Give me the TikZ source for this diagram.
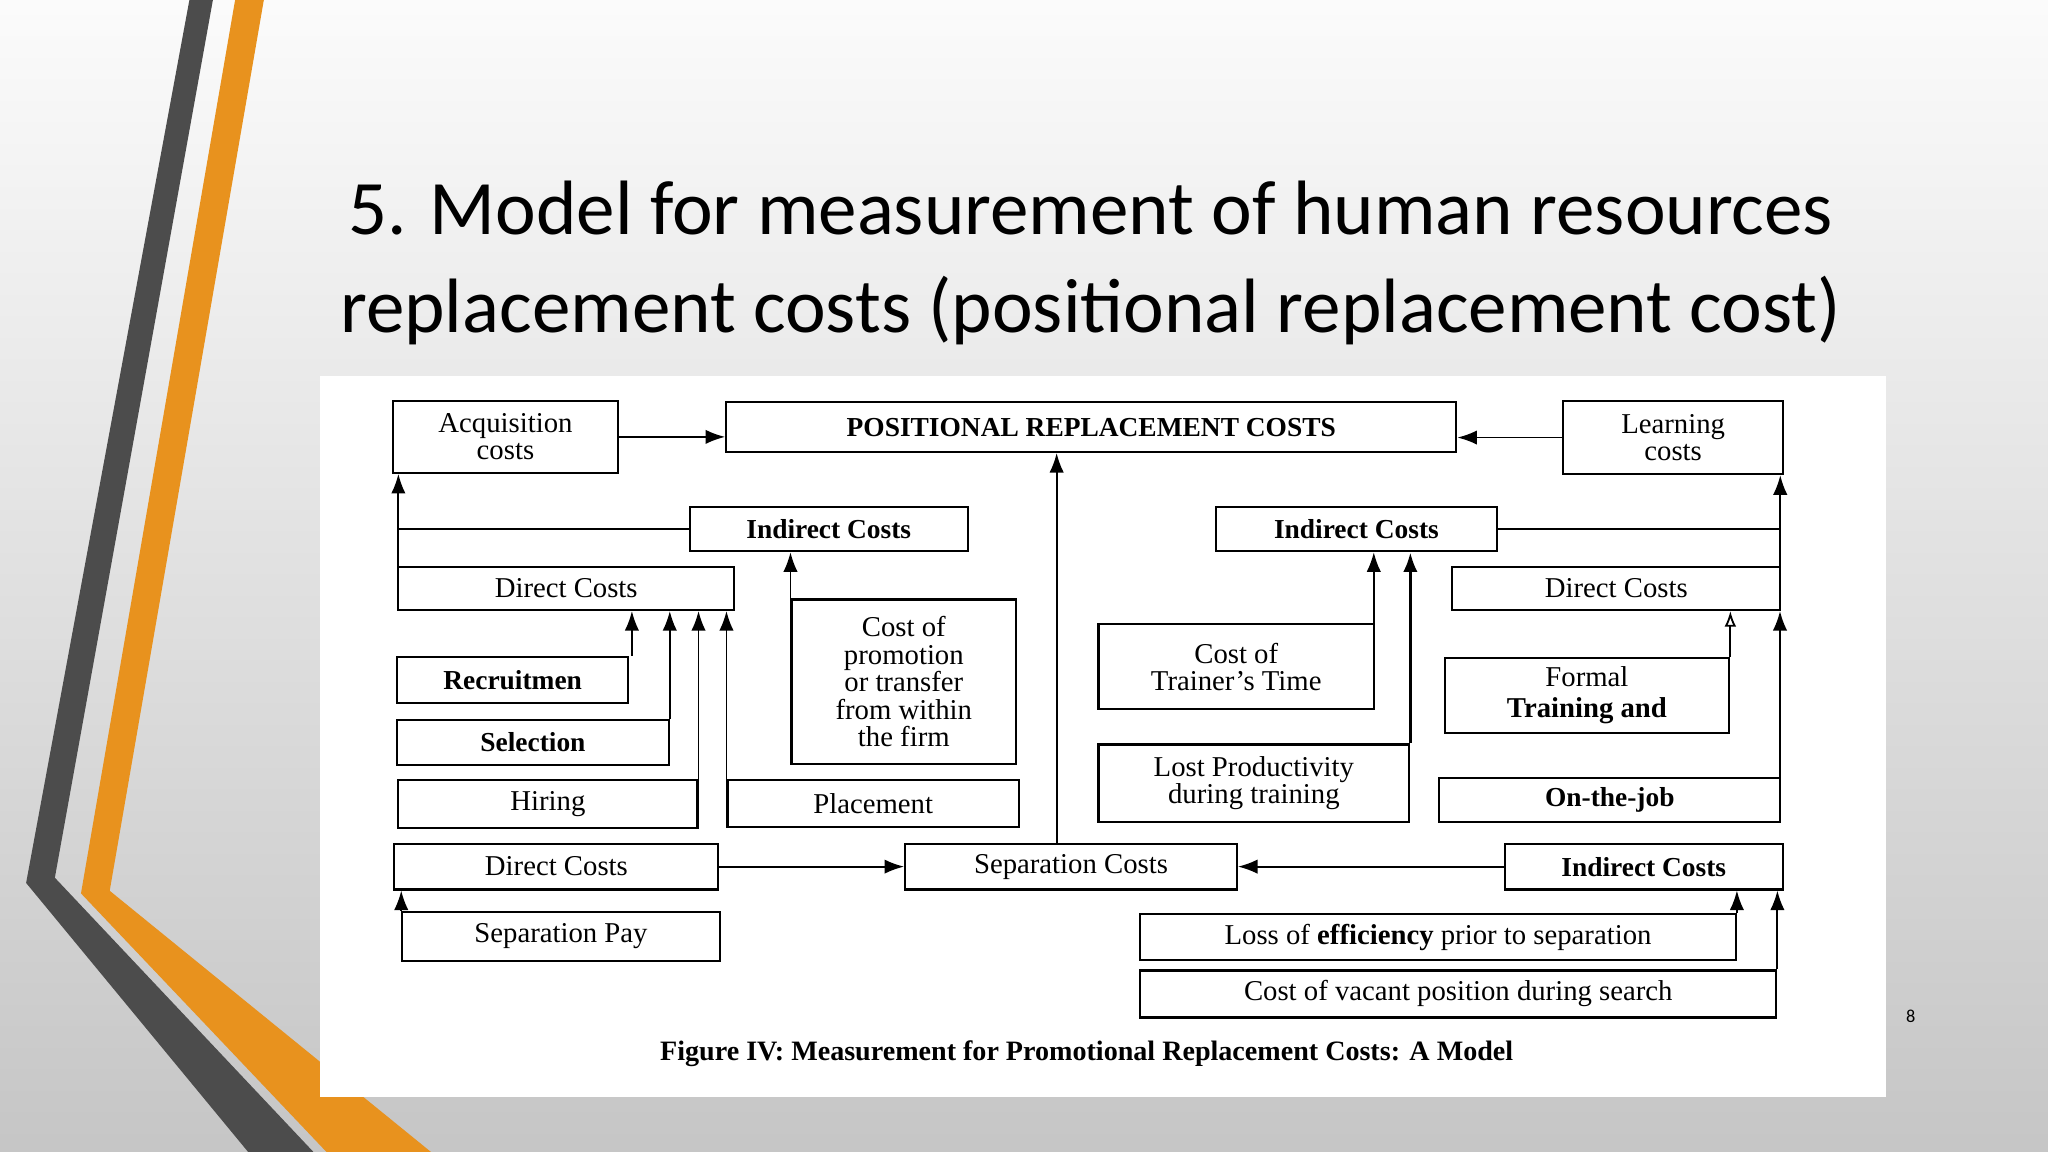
\documentclass[tikz,border=0pt]{standalone}
\usepackage{fontspec}
\setmainfont{Liberation Serif}
\newfontfamily\titlefont{Carlito}
\usetikzlibrary{arrows.meta}
\definecolor{orng}{HTML}{E8921E}
\begin{document}
\begin{tikzpicture}[x=1pt,y=-1pt,
  bx/.style={draw,line width=1.6pt,inner sep=0pt,align=center,font=\fontsize{22}{21}\selectfont},
  bb/.style={font=\bfseries\fontsize{21}{21}\selectfont},
  ln/.style={line width=1.4pt},
  ar/.style={line width=1.4pt,-{Latex[length=15pt,width=11pt]}}]
\useasboundingbox (0,0) rectangle (1568,882);
\shade[top color=white!97!gray,bottom color=gray!45] (0,0) rectangle (1568,882);
% decoration
\fill[black!70] (145,0)--(163,0)--(42,672)--(240,882)--(190,882)--(20,676)--cycle;
\fill[orng] (180,0)--(202,0)--(84,682)--(330,882)--(250,882)--(62,684)--cycle;
% title
\node[font=\titlefont\fontsize{59}{75}\selectfont,align=center] (title) at (835,201) {5. Model for measurement of human resources\\replacement costs (positional replacement cost)};
\fill[white] (245,288) rectangle (1444,840);
\node[font=\titlefont\fontsize{14}{14}\selectfont] (pg) at (1463,778) {8};
% boxes
\node[bx,minimum width=172pt,minimum height=55pt] (acq) at (387,334.5) {Acquisition\\costs};
\node[bx,bb,minimum width=559pt,minimum height=38pt] (prc) at (835.5,327) {POSITIONAL REPLACEMENT COSTS};
\node[bx,minimum width=168pt,minimum height=56pt] (learn) at (1281,335) {Learning\\costs};
\node[bx,bb,minimum width=213pt,minimum height=34pt] (indl) at (634.5,405) {Indirect Costs};
\node[bx,minimum width=257pt,minimum height=33pt] (dirl) at (433.5,450.5) {Direct Costs};
\node[bx,bb,minimum width=177pt,minimum height=35pt] (rec) at (392.5,520.5) {Recruitmen};
\node[bx,bb,minimum width=208pt,minimum height=35pt] (sel) at (408,568.5) {Selection};
\node[bx,minimum width=229pt,minimum height=37pt] (hir) at (419.5,615.5) {Hiring};
\node[bx,minimum width=172pt,minimum height=126pt] (prom) at (692,522) {Cost of\\promotion\\or transfer\\from within\\the firm};
\node[bx,minimum width=223pt,minimum height=36pt] (plac) at (668.5,615) {Placement};
\node[bx,bb,minimum width=215pt,minimum height=34pt] (indr) at (1038.5,405) {Indirect Costs};
\node[bx,minimum width=251pt,minimum height=33pt] (dirr) at (1237.5,450.5) {Direct Costs};
\node[bx,minimum width=211pt,minimum height=65pt] (trn) at (946.5,510.5) {Cost of\\Trainer's Time};
\node[bx,minimum width=238pt,minimum height=59pt] (lost) at (960,599.5) {Lost Productivity\\during training};
\node[bx,minimum width=218pt,minimum height=57pt,font=\fontsize{22}{24}\selectfont] (form) at (1215,532.5) {Formal\\\textbf{Training and}};
\node[bx,bb,minimum width=261pt,minimum height=33pt] (ojt) at (1232.5,612.5) {On-the-job};
\node[bx,minimum width=248pt,minimum height=35pt] (dirs) at (426,663.5) {Direct Costs};
\node[bx,minimum width=254pt,minimum height=35pt] (sepc) at (820,663.5) {Separation Costs};
\node[bx,bb,minimum width=213pt,minimum height=35pt] (inds) at (1258.5,663.5) {Indirect Costs};
\node[bx,minimum width=243pt,minimum height=38pt] (seppay) at (429.5,717) {Separation Pay};
\node[bx,minimum width=456pt,minimum height=35pt] (loss) at (1101,717.5) {Loss of \textbf{efficiency} prior to separation};
\node[bx,minimum width=487pt,minimum height=36pt] (vac) at (1116.5,761) {Cost of vacant position during search};
\node[font=\bfseries\fontsize{21.5}{21}\selectfont] (cap) at (832,807) {Figure IV: Measurement for Promotional Replacement Costs: A Model};
% connectors
\draw[ar] (acq.east) -- (acq.east -| prc.west);
\draw[ar] (learn.west) -- (learn.west -| prc.east);
\draw[ar] (dirl.north -| 305,0) -- (acq.south -| 305,0);
\draw[ln] (indl.west) -- (indl.west -| 305,0);
\draw[ar] (dirr.north -| 1363,0) -- (learn.south -| 1363,0);
\draw[ln] (indr.east) -- (indr.east -| 1363,0);
\draw[ar] ([xshift=2pt]rec.north east) -- ([xshift=2pt]rec.north east |- dirl.south);
\draw[ar] (sel.north east) -- (sel.north east |- dirl.south);
\draw[ar] (hir.south east) -- (hir.south east |- dirl.south);
\draw[ar] (plac.south west) -- (plac.south west |- dirl.south);
\draw[ar] (prom.north west) -- (prom.north west |- indl.south);
\draw[ar] (sepc.north -| 809,0) -- (prc.south -| 809,0);
\draw[ar] ([xshift=-1pt]trn.north east) -- ([xshift=-1pt]trn.north east |- indr.south);
\draw[ar,line width=2.5pt] (lost.north east) -- (lost.north east |- indr.south);
\draw[line width=1.4pt,-{Latex[open,length=12pt,width=9pt]}] (form.north east) -- (form.north east |- dirr.south);
\draw[ar] ([xshift=-1pt]ojt.north east) -- ([xshift=-1pt]ojt.north east |- dirr.south);
\draw[ar] (dirs.east) -- (dirs.east -| sepc.west);
\draw[ar] (inds.west) -- (inds.west -| sepc.east);
\draw[ar] (seppay.north west) -- (seppay.north west |- dirs.south);
\draw[ar] (loss.north east) -- (loss.north east |- inds.south);
\draw[ar] (vac.north east) -- (vac.north east |- inds.south);
\end{tikzpicture}
\end{document}
